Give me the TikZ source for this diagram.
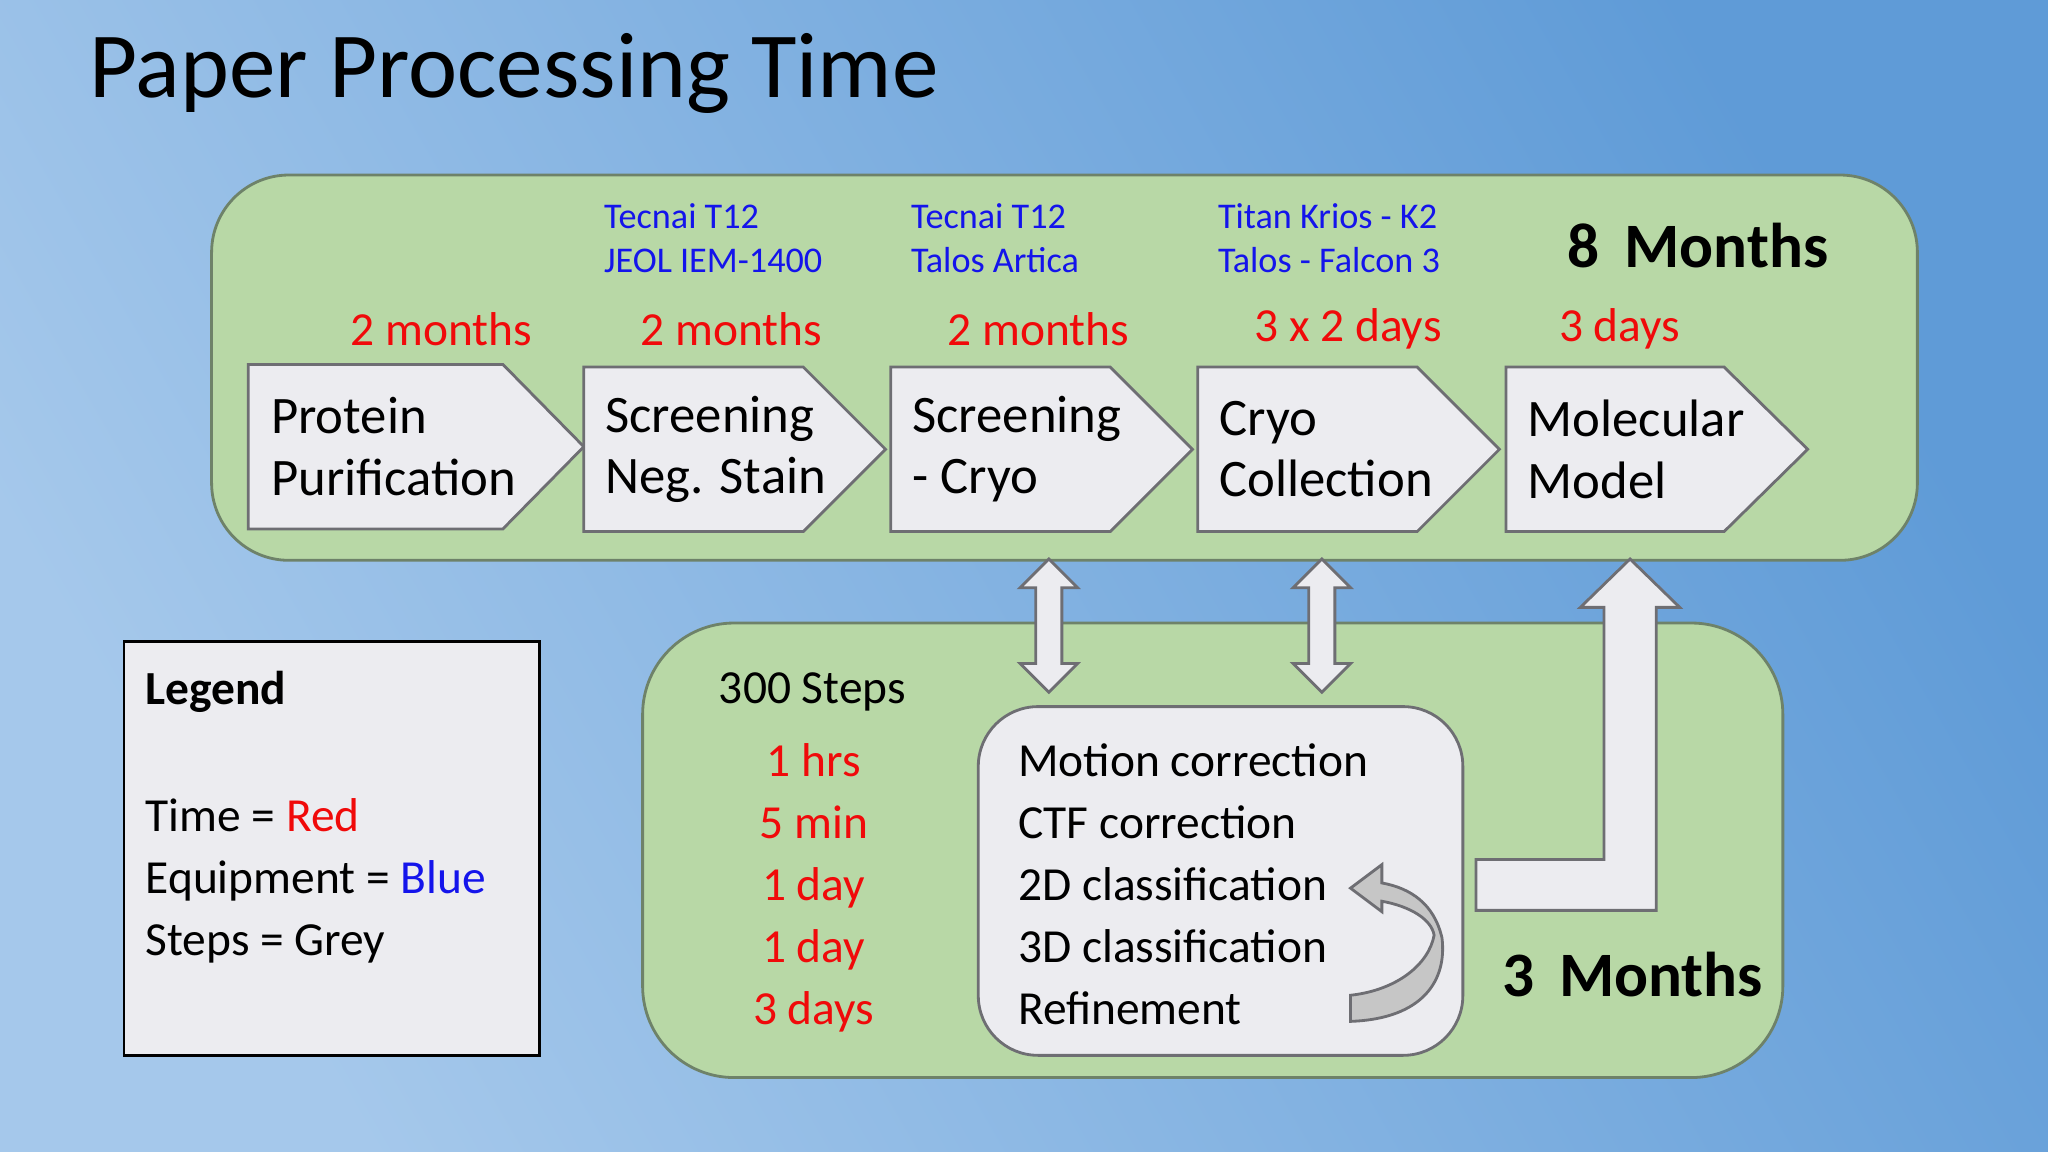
\documentclass[tikz,border=0pt]{standalone}
\usepackage{fontspec}
\setmainfont{Carlito}
\definecolor{gfill}{RGB}{184,216,166}
\definecolor{gline}{RGB}{110,130,105}
\definecolor{pfill}{RGB}{236,236,240}
\definecolor{pline}{RGB}{110,110,115}
\definecolor{tred}{RGB}{240,10,10}
\definecolor{tblue}{RGB}{20,20,235}
\definecolor{bgA}{RGB}{165,200,235}
\definecolor{bgB}{RGB}{95,155,215}
\begin{document}
\begin{tikzpicture}[x=0.013061cm,y=-0.013061cm,
  gbox/.style={fill=gfill,draw=gline,line width=0.8pt},
  pent/.style={fill=pfill,draw=pline,line width=0.8pt},
  hollow/.style={fill=pfill,draw=pline,line width=0.8pt},
  steptxt/.style={font=\fontsize{15}{17.5}\selectfont,align=left,anchor=west,inner sep=0pt},
  redt/.style={text=tred,font=\fontsize{13.5}{15}\selectfont},
  bluet/.style={text=tblue,font=\fontsize{10.3}{12.6}\selectfont,align=left,anchor=north west,inner sep=0pt}]
\useasboundingbox (0,0) rectangle (1568,882);
\shade[shading=axis,left color=bgA,right color=bgB,shading angle=120] (0,0) rectangle (1568,882);
\node[anchor=west,inner sep=0pt,font=\fontsize{26.5}{29}\selectfont] (title) at (68,56) {Paper Processing Time};
% upper box
\draw[gbox,rounded corners=22pt] (162,134) rectangle (1468,429);
% lower box
\draw[gbox,rounded corners=26pt] (492,477) rectangle (1365,825);
% pentagons
\draw[pent] (190,279) -- (385,279) -- (447,342) -- (385,405) -- (190,405) -- cycle;
\draw[pent] (447,281) -- (615,281) -- (678,344) -- (615,407) -- (447,407) -- cycle;
\draw[pent] (682,281) -- (850,281) -- (913,344) -- (850,407) -- (682,407) -- cycle;
\draw[pent] (917,281) -- (1085,281) -- (1148,344) -- (1085,407) -- (917,407) -- cycle;
\draw[pent] (1153,281) -- (1320,281) -- (1384,344) -- (1320,407) -- (1153,407) -- cycle;
\node[steptxt] (p1) at (207,342) {Protein\\Purification};
\node[steptxt] (p2) at (463,344) {Screening\\Neg. Stain};
\node[steptxt] (p3) at (698,344) {Screening\\- Cryo};
\node[steptxt] (p4) at (933,344) {Cryo\\Collection};
\node[steptxt] (p5) at (1169,344) {Molecular\\Model};
% red times
\node[redt] (t1) at (338,252) {2 months};
\node[redt] (t2) at (560,252) {2 months};
\node[redt] (t3) at (795,252) {2 months};
\node[redt] (t4) at (1032,252) {3 x 2 days};
\node[redt] (t5) at (1240,252) {3 days};
% blue equipment
\node[bluet] (e2) at (462,155) {Tecnai T12\\JEOL IEM-1400};
\node[bluet] (e3) at (697,155) {Tecnai T12\\Talos Artica};
\node[bluet] (e4) at (932,155) {Titan Krios - K2\\Talos - Falcon 3};
\node[font=\bfseries\fontsize{18}{20}\selectfont] (m8) at (1300,188) {8\,\ Months};
% double arrows
\foreach \cx in {803,1012}{
\draw[hollow] (\cx,428) -- (\cx+22,450) -- (\cx+10,450) -- (\cx+10,508) -- (\cx+22,508) -- (\cx,530)
  -- (\cx-22,508) -- (\cx-10,508) -- (\cx-10,450) -- (\cx-22,450) -- cycle;}
% big arrow
\draw[hollow] (1130,658) -- (1228,658) -- (1228,465) -- (1210,465) -- (1248,428) -- (1286,465)
  -- (1268,465) -- (1268,697) -- (1130,697) -- cycle;
% lower content
\node[font=\fontsize{13.5}{15}\selectfont] (s300) at (622,530) {300 Steps};
\node[redt,align=center,font=\fontsize{13.5}{17.6}\selectfont,anchor=north] (times) at (623,560) {1 hrs\\5 min\\1 day\\1 day\\3 days};
\draw[fill=pfill,draw=pline,line width=0.8pt,rounded corners=17pt] (749,541) rectangle (1120,808);
\node[anchor=north west,inner sep=0pt,align=left,font=\fontsize{13.5}{17.6}\selectfont] (steps) at (779,569)
  {Motion correction\\CTF correction\\2D classification\\3D classification\\Refinement};
% curved arrow
\draw[fill=gray!45,draw=pline,line width=0.8pt] (1034,782) .. controls (1090,780) and (1108,750) .. (1104,718)
  .. controls (1098,692) and (1080,680) .. (1058,676) -- (1058,662) -- (1034,680) -- (1058,698)
  -- (1058,690) .. controls (1080,694) and (1096,704) .. (1098,716)
  .. controls (1094,738) and (1070,758) .. (1034,762) -- cycle;
\node[font=\bfseries\fontsize{18}{20}\selectfont] (m3) at (1250,746) {3\,\ Months};
% legend
\draw[fill=pfill,draw=black,line width=0.8pt] (95,491) rectangle (413,808);
\node[anchor=west,inner sep=0pt,font=\bfseries\fontsize{13.5}{15}\selectfont] (lg) at (111,530) {Legend};
\node[anchor=north west,inner sep=0pt,align=left,font=\fontsize{13.5}{17.6}\selectfont] (lgt) at (111,611)
  {Time = \textcolor{tred}{Red}\\Equipment = \textcolor{tblue}{Blue}\\Steps = Grey};
\end{tikzpicture}
\end{document}
